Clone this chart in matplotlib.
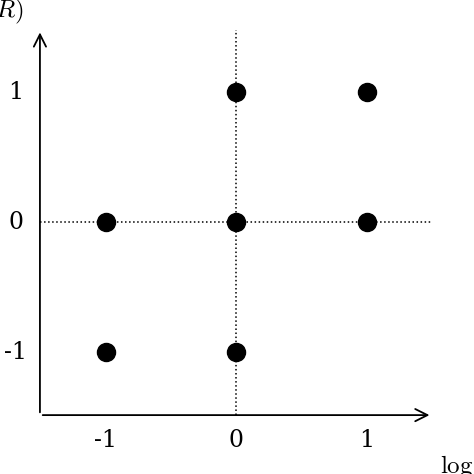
import matplotlib
matplotlib.use("Agg")
import matplotlib.pyplot as plt

xs = [0, 1, -1, 0, 1, -1, 0]
ys = [1, 1, 0, 0, 0, -1, -1]
ticks = [-1, 0, 1]
tick_labels = ["-1", "0", "1"]

plt.rcParams['font.family'] = ['DejaVu Serif']
plt.rcParams['mathtext.fontset'] = 'cm'
fig = plt.figure(figsize=(4.74, 4.74), dpi=100)
ax = fig.add_axes([0, 0, 1, 1])
ax.set_xlim(-1.812, 1.820)
ax.set_ylim(-1.938, 1.708)
ax.axis('off')

x0, x1 = -1.506, 1.50
y0, y1 = -1.485, 1.48
ax.annotate('', xy=(x1, y0), xytext=(x0, y0),
            arrowprops=dict(arrowstyle='->', lw=1.3, color='black', mutation_scale=22))
ax.annotate('', xy=(x0, y1), xytext=(x0, y0),
            arrowprops=dict(arrowstyle='->', lw=1.3, color='black', mutation_scale=22))
ax.plot([0, 0], [y0, y1], ls=':', color='black', lw=1.1)
ax.plot([x0, x1], [0, 0], ls=':', color='black', lw=1.1)

ax.plot(xs, ys, 'o', color='black', markersize=13)

for t, l in zip(ticks, tick_labels):
    ax.text(t, -1.68, l, ha='center', va='center', fontsize=17)
    ax.text(-1.69, t, l, ha='center', va='center', fontsize=17)

ax.text(1.56, -1.88, r'$\log$', ha='left', va='center', fontsize=18)
ax.text(-1.63, 1.62, r'$(\boldsymbol{R})$' if False else r'$(R)$', ha='right', va='center', fontsize=18)

fig.savefig('out.png', dpi=100)
